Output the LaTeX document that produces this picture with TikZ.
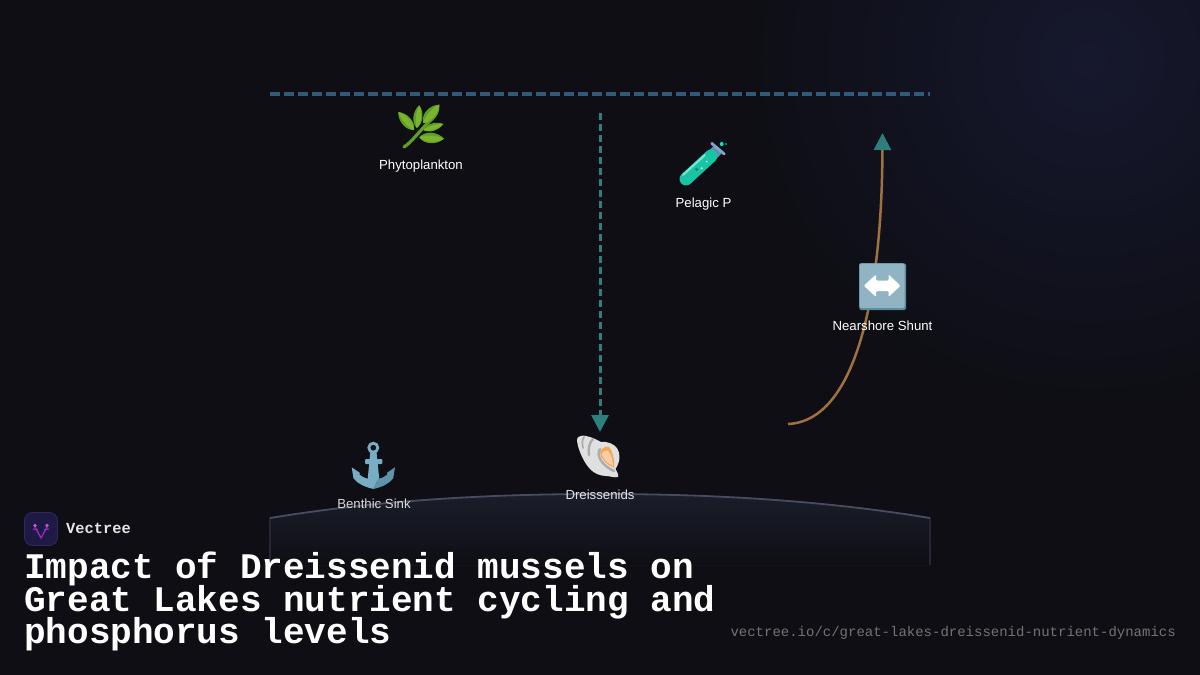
\documentclass[tikz,border=0pt]{standalone}
\usepackage{fontspec}
\setmainfont{Liberation Sans}
\setmonofont{Liberation Mono}
\usetikzlibrary{arrows.meta,calc}
\lineskiplimit=-50pt
\definecolor{bgbase}{HTML}{0E0E14}
\definecolor{bgblue}{HTML}{16182E}
\definecolor{surf}{HTML}{2E5A7C}
\definecolor{teal}{HTML}{2C7F7A}
\definecolor{brown}{HTML}{A0703F}
\definecolor{bedtop}{HTML}{1A1E2A}
\definecolor{bedline}{HTML}{474D5E}
\definecolor{leafdark}{HTML}{5F9E20}
\definecolor{leaflight}{HTML}{7AB52F}
\definecolor{anchorc}{HTML}{78AEC4}
\definecolor{anchord}{HTML}{5E93AA}
\definecolor{boxc}{HTML}{90B4C4}
\definecolor{boxd}{HTML}{5D8A9C}
\definecolor{tubeliq}{HTML}{19C4A5}
\definecolor{tubeglass}{HTML}{5F90B5}
\definecolor{tuberim}{HTML}{82A5C8}
\definecolor{tubehi}{HTML}{78E6CD}
\definecolor{tubedk}{HTML}{0F8278}
\definecolor{tubelt}{HTML}{B4F0E1}
\definecolor{tubedot}{HTML}{00E5C8}
\definecolor{shellc}{HTML}{E0E0E0}
\definecolor{shellg}{HTML}{ADADAD}
\definecolor{shello}{HTML}{F4A850}
\definecolor{shellp}{HTML}{FFCCAA}
\definecolor{logofill}{HTML}{1E1A44}
\definecolor{logoline}{HTML}{2E2A5E}
\definecolor{logov}{HTML}{9628BE}
\definecolor{logodot}{HTML}{BE5AD7}
\newcommand{\myleaf}[3]{%
 \coordinate (lfb) at (#1); \coordinate (lft) at (#2);
 \coordinate (lfp) at ($(lfb)!.2!(lft)$);
 \coordinate (lfq) at ($(lfb)!.72!(lft)$);
 \fill[leafdark] (lfb) .. controls ($(lfp)!#3pt!90:(lft)$) and ($(lfq)!#3pt!90:(lft)$) .. (lft) .. controls ($(lfq)!#3pt!-90:(lft)$) and ($(lfp)!#3pt!-90:(lft)$) .. (lfb) -- cycle;
 \fill[leaflight] (lfb) .. controls ($(lfp)!.45*#3pt!90:(lft)$) and ($(lfq)!.45*#3pt!90:(lft)$) .. (lft) .. controls ($(lfq)!.7*#3pt!-90:(lft)$) and ($(lfp)!.7*#3pt!-90:(lft)$) .. (lfb) -- cycle;
}
\tikzset{
 x=1pt,y=-1pt,
 lab/.style={font=\fontsize{13.2}{15}\selectfont,text=white,inner sep=0pt,anchor=base},
 surfline/.style={draw=surf,line width=3.5pt,dash pattern=on 10pt off 4pt},
 downflow/.style={draw=teal,line width=3pt,dash pattern=on 7pt off 4pt,-{Triangle[length=17pt,width=17pt,color=teal,fill=teal]}},
 upflow/.style={draw=brown,line width=2.5pt,-{Triangle[length=17pt,width=17pt,color=teal,fill=teal]}},
 ttl/.style={font=\ttfamily\bfseries\fontsize{36}{32.4}\selectfont,text=white,inner sep=0pt,anchor=north west,align=left}
}
\begin{document}
\begin{tikzpicture}
\useasboundingbox (0,0) rectangle (1200,675);
\fill[bgbase] (0,0) rectangle (1200,675);
\begin{scope}
\clip (0,0) rectangle (1200,675);
\shade[inner color=bgblue,outer color=bgbase,shading=radial] (1090,60) circle (350);
\end{scope}
% seabed
\path[top color=bedtop,bottom color=bgbase] (270,518) .. controls (380,500) and (490,494) .. (600,494) .. controls (710,494) and (820,500) .. (930,518) -- (930,565) -- (270,565) -- cycle;
\draw[draw=bedline!10!bgbase,line width=1pt] (270,565) -- (930,565);
\draw[draw=bedline!40!bgbase,line width=1.2pt] (270,518) -- (270,565) (930,565) -- (930,518);
\draw[draw=bedline,line width=1.8pt] (270,518) .. controls (380,500) and (490,494) .. (600,494) .. controls (710,494) and (820,500) .. (930,518);
% connectors
\coordinate (sl) at (270,94);
\coordinate (sr) at (930,94);
\draw[surfline] (sl) -- (sr);
\coordinate (ds) at (600,113);
\coordinate (de) at (600,432);
\draw[downflow] (ds) -- (de);
\coordinate (us) at (788,424);
\coordinate (ue) at (882.5,133);
\draw[upflow] (us) .. controls (856,421) and (882,295) .. (ue);
% herb icon
\draw[leafdark,line width=3.2pt,line cap=round] (404,147) .. controls (412,142) and (420,130) .. (432,119);
\myleaf{414,130}{398.3,112}{6.5}
\myleaf{416.7,128}{419.3,105.3}{6}
\myleaf{423.3,123}{439.3,104.7}{7.5}
\myleaf{423.3,130}{443.3,124}{5}
\myleaf{419.3,137.3}{444,138.7}{7}
% test tube icon
\draw[tubeglass,line width=11pt] (711,156) -- (718,149.5);
\draw[tubeliq,line width=13pt,line cap=round] (686,179) -- (711,156);
\draw[tuberim,line width=2.8pt,line cap=round] (711.7,143.3) -- (724.3,154);
\draw[tubehi,line width=2pt,line cap=round] (683,175) -- (705,155);
\fill[tubedk] (696.7,169.3) circle (1.8);
\fill[tubelt] (701.7,168.3) circle (1.1);
\fill[tubelt] (706.7,161.7) circle (1);
\fill[tubedot] (721.7,144) circle (2);
\fill[tubedot] (726,144) circle (.8);
% arrow-box icon
\fill[boxd,rounded corners=2pt] (859.3,263.3) rectangle (906,310);
\fill[boxc,rounded corners=2pt] (859.3,263.3) rectangle (904.5,308);
\fill[white,rounded corners=1.2pt] (863.8,285.7) -- (876,274.5) -- (876,280.7) -- (888.5,280.7) -- (888.5,274.5) -- (900.5,285.7) -- (888.5,297) -- (888.5,291) -- (876,291) -- (876,297) -- cycle;
% anchor icon
\draw[anchorc,line width=2.8pt] (373.3,447.7) circle (4.5);
\fill[anchorc] (370.3,452) -- (376.5,452) -- (379.5,481) -- (367.5,481) -- cycle;
\fill[anchorc,rounded corners=1pt] (365,459) rectangle (382.3,464);
\fill[anchorc] (351.7,467.3) -- (360,473) -- (359,474) .. controls (361,476) and (364,478) .. (369,479) -- (378,479) -- (373.5,489) .. controls (365,487) and (358,484) .. (353.5,478.5) -- cycle;
\fill[anchord] (395,467.3) -- (386.7,473) -- (387.7,474) .. controls (385.7,476) and (382.7,478) .. (378,479) -- (373.5,489) .. controls (381.7,487) and (388.7,484) .. (393.2,478.5) -- cycle;
% shell icon
\fill[shellc] (577.3,438) .. controls (579,436) and (583,435) .. (586,436) .. controls (592,437) and (597,440) .. (601,442) .. controls (607,441) and (614,444) .. (617,448) .. controls (621,454) and (620,462) .. (615.5,469) .. controls (617,472) and (619,475) .. (618,477) .. controls (614,478) and (610,476) .. (606,476) .. controls (600,476) and (594,473) .. (591,470) .. controls (585,464) and (581,456) .. (578,446) .. controls (577,443) and (577,440) .. (577.3,438) -- cycle;
\draw[shellg,line width=2.4pt,line cap=round] (593,439) .. controls (589,443) and (588,449) .. (589,455);
\draw[shellg,line width=1.8pt,line cap=round] (584,437) .. controls (582,440) and (582,444) .. (583,448);
\draw[shellg,line width=2.5pt,line cap=round] (600,449) .. controls (596,455) and (601,465) .. (614,471);
\fill[shello] (600,452) .. controls (602,448) and (606,446) .. (608.5,446.7) .. controls (612,449) and (615,460) .. (614,467.5) .. controls (607,465) and (601,460) .. (600,452) -- cycle;
\fill[shellp] (601.5,453.5) .. controls (604,451) and (606,450) .. (608,450.5) .. controls (611,454) and (613,461) .. (613,466) .. controls (607,463) and (603,459) .. (601.5,453.5) -- cycle;
% labels
\node[lab] (phy) at (421,169) {Phytoplankton};
\node[lab] (pel) at (703.5,207) {Pelagic P};
\node[lab] (near) at (882.5,330) {Nearshore Shunt};
\node[lab,text=white!85!black] (ben) at (374,508) {Benthic Sink};
\node[lab,text=white!90!black] (dre) at (600,499) {Dreissenids};
% brand
\fill[rounded corners=8pt,fill=logofill,draw=logoline,line width=.8pt] (24.5,512.5) rectangle (57.5,545.5);
\draw[logov,line width=1.4pt,line join=round] (35,527) -- (41,538) -- (47,527);
\draw[logov,line width=1.2pt] (33,529) -- (38,530) (49,529) -- (44,530);
\fill[logodot] (35,525.5) circle (1.8) (47,525.5) circle (1.8);
\node[font=\ttfamily\bfseries\fontsize{15.4}{16}\selectfont,text=white!90!black,anchor=west,inner sep=0pt] (brand) at (66,528.5) {Vectree};
\node[ttl] (title) at (24,552) {Impact of Dreissenid mussels on\\Great Lakes nutrient cycling and\\phosphorus levels};
\node[font=\ttfamily\fontsize{14}{14}\selectfont,text=white!42!bgbase,anchor=east,inner sep=0pt] (url) at (1176,633) {vectree.io/c/great-lakes-dreissenid-nutrient-dynamics};
\end{tikzpicture}
\end{document}
